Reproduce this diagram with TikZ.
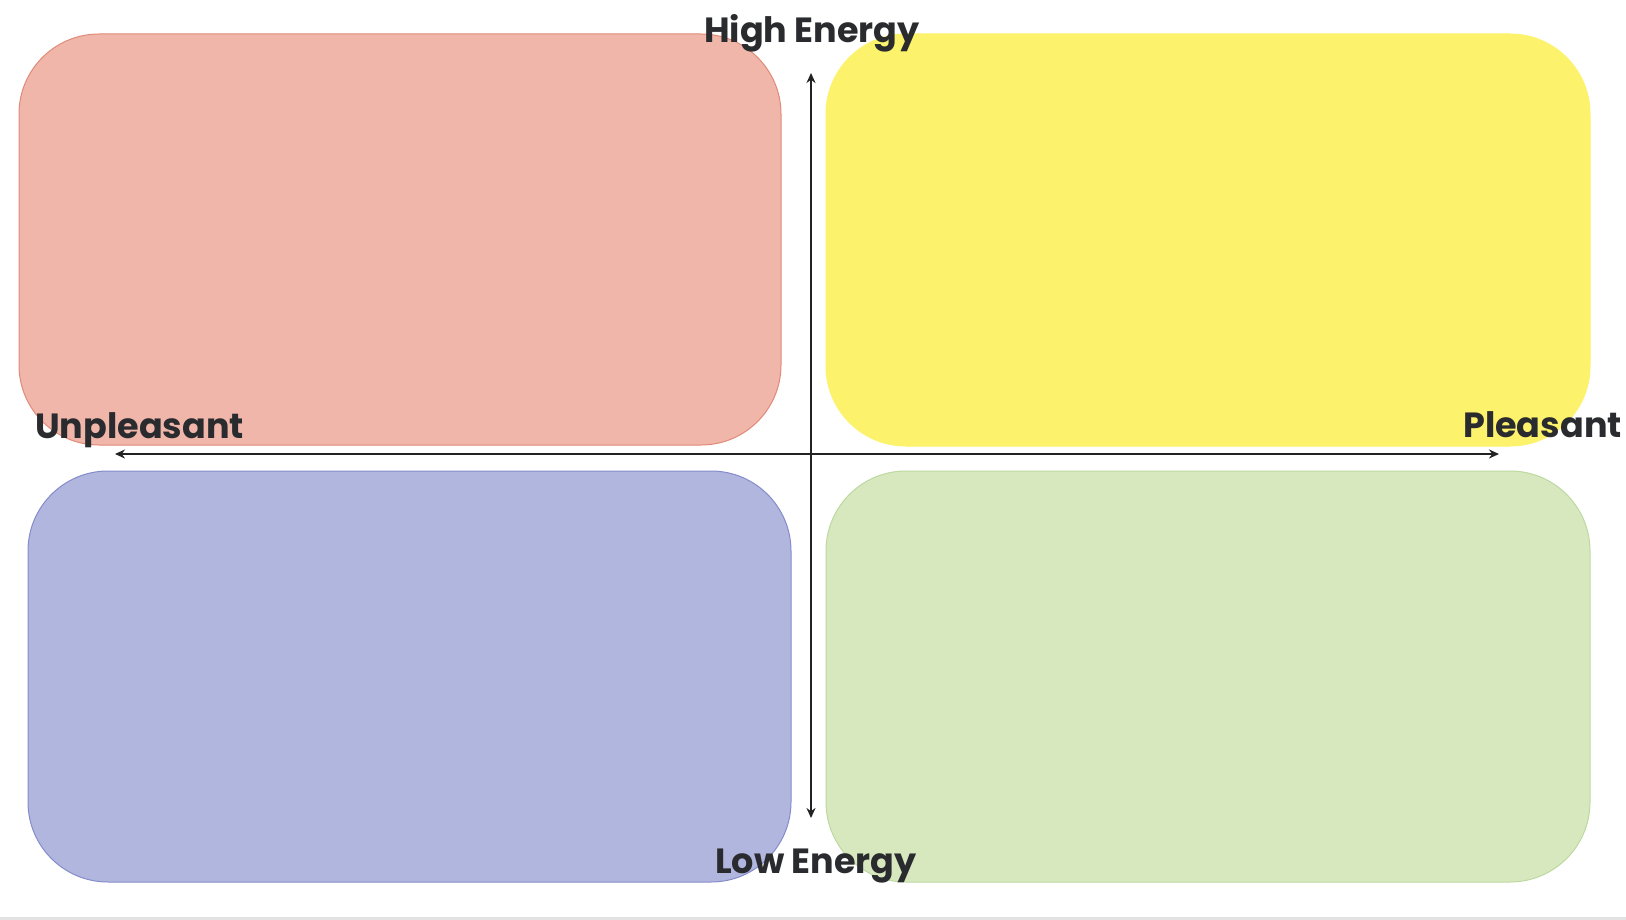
\documentclass[tikz,border=0pt]{standalone}
\usepackage{fontspec}
\setmainfont{Poppins}
\usetikzlibrary{arrows.meta}
\definecolor{redfill}{HTML}{F0B6AA}
\definecolor{redline}{HTML}{E08A78}
\definecolor{yellowfill}{HTML}{FDF26B}
\definecolor{bluefill}{HTML}{B1B6DE}
\definecolor{blueline}{HTML}{858CCB}
\definecolor{greenfill}{HTML}{D8E8BE}
\definecolor{greenline}{HTML}{BCD9A0}
\definecolor{axiscol}{HTML}{222222}
\definecolor{labelcol}{HTML}{2A2B2E}
\definecolor{bandcol}{HTML}{E2E2E2}
\tikzset{
  quadrant/.style={rounded corners=80pt, line width=1pt},
  axislabel/.style={inner sep=0pt, text=labelcol, font=\fontsize{35}{40}\selectfont\bfseries},
  axisline/.style={axiscol, line width=1.9pt, {Stealth[length=10pt,width=9pt]}-{Stealth[length=10pt,width=9pt]}}
}
\begin{document}
\begin{tikzpicture}[x=1pt,y=-1pt]
	\useasboundingbox (0,0) rectangle (1626,920);
	\fill[white] (0,0) rectangle (1626,920);
	\fill[bandcol] (0,917) rectangle (1626,920);

	\draw[quadrant, fill=redfill, draw=redline] (19,34) rectangle (781,445);
	\draw[quadrant, fill=yellowfill, draw=yellowfill] (826,34) rectangle (1590,446);
	\draw[quadrant, fill=bluefill, draw=blueline] (28,471) rectangle (791,882);
	\draw[quadrant, fill=greenfill, draw=greenline] (826,471) rectangle (1590,882);

	\coordinate (top) at (811,73);
	\coordinate (bottom) at (811,818);
	\coordinate (left) at (115,454);
	\coordinate (right) at (1499,454);

	\draw[axisline] (top) -- (bottom);
	\draw[axisline] (left) -- (right);

	\node[axislabel, anchor=base] (high) at (812,43) {High Energy};
	\node[axislabel, anchor=base] (low) at (816,873) {Low Energy};
	\node[axislabel, anchor=base west] (unpleasant) at (35,438) {Unpleasant};
	\node[axislabel, anchor=base east] (pleasant) at (1622,437) {Pleasant};
\end{tikzpicture}
\end{document}
